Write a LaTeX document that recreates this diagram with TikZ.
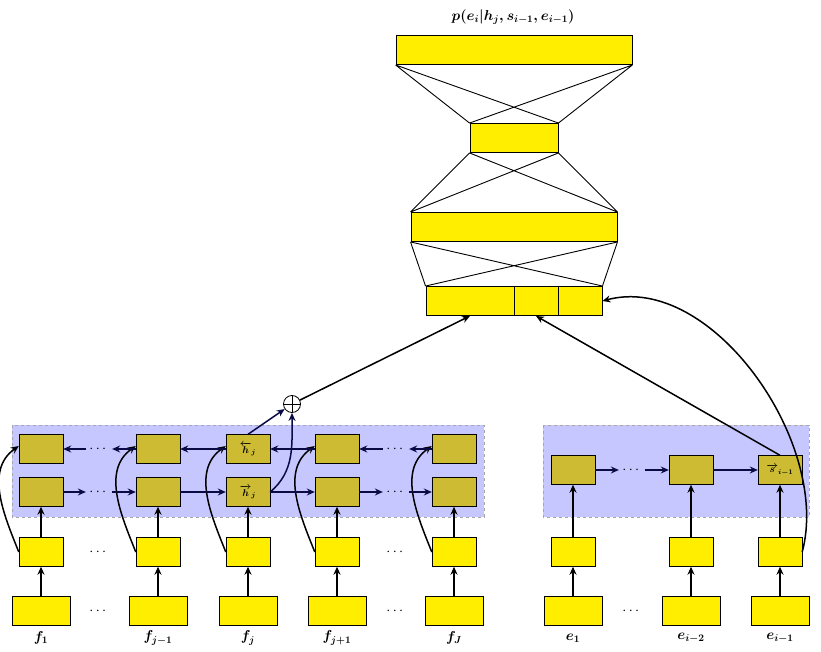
\documentclass[tikz,border=0pt]{standalone}
\usepackage{amsmath}
\usetikzlibrary{arrows.meta}
\begin{document}
\begin{tikzpicture}[x=1pt,y=-1pt,
 yb/.style={draw=black,fill=yel,inner sep=0pt,minimum height=29pt},
 hb/.style={draw=black,fill=oli,inner sep=0pt,minimum width=44pt,minimum height=29pt},
 ar/.style={-{Stealth[length=8pt,width=7pt]},line width=1.5pt},
 nar/.style={ar,draw=navy},
 dt/.style={font=\Large},
 lab/.style={font=\Large},
 panel/.style={fill=blue!22,draw=gray!70,dashed,line width=0.8pt}]
\definecolor{yel}{HTML}{FFEE00}
\definecolor{oli}{HTML}{CCBB33}
\definecolor{navy}{HTML}{0A0A45}
\useasboundingbox (0,0) rectangle (821,652);
\fill[panel] (12,425) rectangle (484,517);
\fill[panel] (543,425) rectangle (809,517);
\draw[panel,fill=none] (12,425) rectangle (484,517);
\draw[panel,fill=none] (543,425) rectangle (809,517);
% top network
\node[lab] at (513,17) {$\boldsymbol{p(e_i|h_j,s_{i-1},e_{i-1})}$};
\begin{scope}[line width=0.9pt]
\node[yb,minimum width=236pt] (o) at (514,50) {};
\node[yb,minimum width=88pt] (m) at (514,138) {};
\node[yb,minimum width=206pt] (l) at (514,227) {};
\node[yb,minimum width=88pt] (c1) at (470,301) {};
\node[yb,minimum width=44pt] (c2) at (536,301) {};
\node[yb,minimum width=44pt] (c3) at (580,301) {};
\foreach \a/\b in {o/m,m/l}{
 \draw (\a.south west)--(\b.north west) (\a.south west)--(\b.north east)
       (\a.south east)--(\b.north west) (\a.south east)--(\b.north east);}
\draw (l.south west)--(c1.north west) (l.south west)--(c3.north east)
      (l.south east)--(c1.north west) (l.south east)--(c3.north east);
\end{scope}
% source columns
\foreach \n/\x/\lab in {1/41/f_1,2/158/f_{j-1},3/248/f_j,4/337/f_{j+1},5/454/f_J}{
 \node[yb,minimum width=58pt] (b\n) at (\x,611) {};
 \node[yb,minimum width=44pt] (y\n) at (\x,552) {};
 \node[hb] (f\n) at (\x,492) {};
 \node[hb] (g\n) at (\x,449) {};
 \node[lab] (fl\n) at (\x,638) {$\boldsymbol{\lab}$};
 \draw[ar] (b\n)--(y\n);
 \draw[ar] (y\n)--(f\n);
 \draw[ar] (y\n.west) to[out=112,in=215] ([yshift=3pt]g\n.west);
}
\node at (f3) {$\boldsymbol{\overrightarrow{h}_j}$};
\node at (g3) {$\boldsymbol{\overleftarrow{h}_j}$};
\foreach \x/\y in {99/552,99/611,396/552,396/611,99/492,396/492,99/449,396/449}
 \node[dt] (d\x\y) at (\x,\y) {$\cdots$};
\draw[nar] (f1)--(d99492);
\draw[nar] (d99492)--(f2);
\draw[nar] (f2)--(f3);
\draw[nar] (f3)--(f4);
\draw[nar] (f4)--(d396492);
\draw[nar] (d396492)--(f5);
\draw[nar] (g5)--(d396449);
\draw[nar] (d396449)--(g4);
\draw[nar] (g4)--(g3);
\draw[nar] (g3)--(g2);
\draw[nar] (g2)--(d99449);
\draw[nar] (d99449)--(g1);
\node[draw,circle,thick,inner sep=0pt,minimum size=17pt] (plus) at (292,404) {};
\draw[thick] (plus.north)--(plus.south) (plus.west)--(plus.east);
\draw[nar] (g3.north)--(plus);
\draw[nar] (f3.east) to[out=40,in=-90] (plus.south);
\draw[ar] (plus)--(c1.south);
% target columns
\foreach \n/\x/\lab in {1/573/e_1,2/691/e_{i-2},3/780/e_{i-1}}{
 \node[yb,minimum width=58pt] (tb\n) at (\x,611) {};
 \node[yb,minimum width=44pt] (ty\n) at (\x,552) {};
 \node[hb] (s\n) at (\x,470) {};
 \node[lab] (tl\n) at (\x,638) {$\boldsymbol{\lab}$};
 \draw[ar] (tb\n)--(ty\n);
 \draw[ar] (ty\n)--(s\n);
}
\node[inner sep=0pt] at (s3) {$\boldsymbol{\overrightarrow{s}_{i-1}}$};
\node[dt] (td1) at (632,611) {$\cdots$};
\node[dt] (td2) at (632,470) {$\cdots$};
\draw[nar] (s1)--(td2);
\draw[nar] (td2)--(s2);
\draw[nar] (s2)--(s3);
\draw[ar] (s3.north)--(c2.south);
\draw[ar] (ty3.east) to[out=75,in=15,looseness=0.9] (c3.east);
\end{tikzpicture}
\end{document}
